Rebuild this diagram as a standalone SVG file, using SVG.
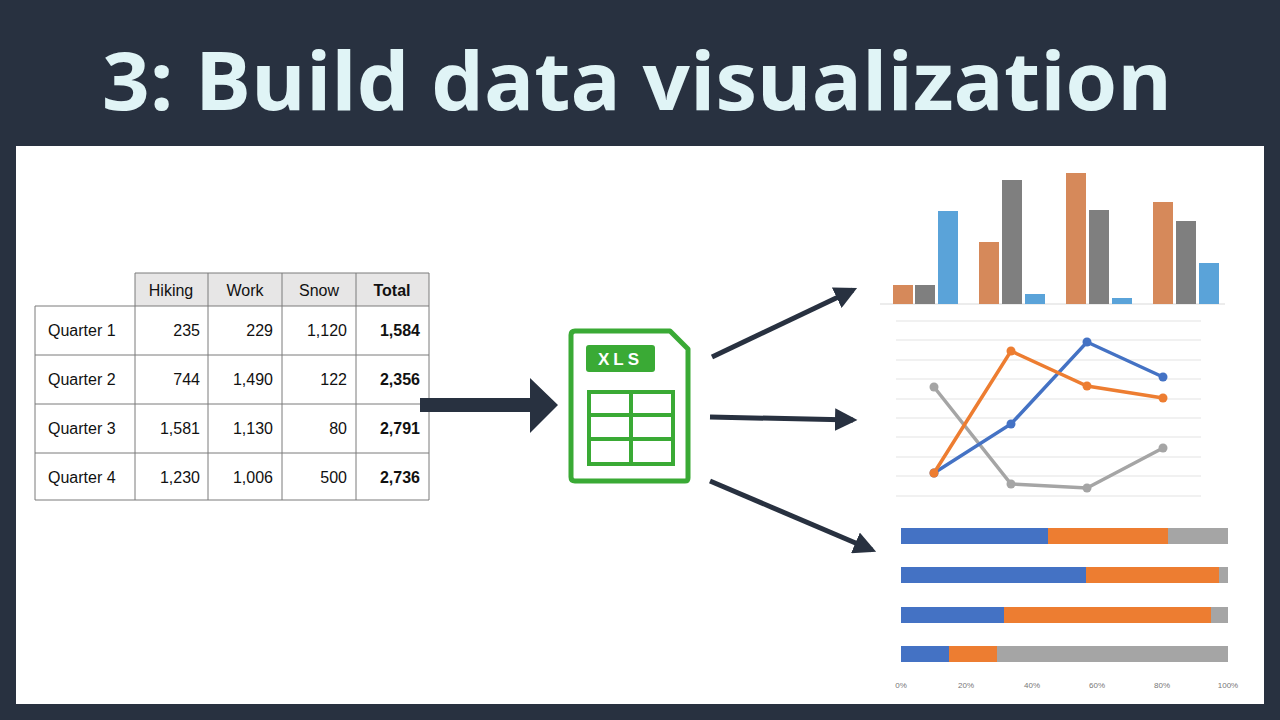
<svg xmlns="http://www.w3.org/2000/svg" width="1280" height="720" viewBox="0 0 1280 720">
<style>
.t{font-family:"Liberation Sans",Arial,sans-serif;font-size:16px;fill:#111}
.b{font-weight:bold}
.g{stroke:#7a7a7a;stroke-width:1;fill:none}
.ax{font-family:"Liberation Sans",Arial,sans-serif;font-size:8px;fill:#777;text-anchor:middle}
.conn{stroke:#283140;stroke-width:5;fill:none}
.grid{stroke:#e3e3e3;stroke-width:1}
</style>
<defs>
<marker id="ah" viewBox="0 0 10 10" refX="8" refY="5" markerWidth="4.5" markerHeight="4.5" orient="auto" markerUnits="strokeWidth"><path d="M0,0 L10,5 L0,10 z" fill="#283140"/></marker>
</defs>
<rect width="1280" height="720" fill="#283140"/>
<rect x="16" y="146" width="1248" height="558" fill="#fff"/>
<text x="102" y="110" textLength="1070" lengthAdjust="spacingAndGlyphs" font-family="Open Sans, sans-serif" font-weight="bold" font-size="80" fill="#e0f4f6">3: Build data visualization</text>

<g id="table">
<rect x="135" y="273" width="294" height="33" fill="#e7e6e6"/>
<path class="g" d="M135,273 H429 M35,306 H429 M35,355 H429 M35,404 H429 M35,453 H429 M135,273 V500 M208,273 V500 M282,273 V500 M356,273 V500 M429,273 V500 M35,306 V500 M35,500 H429"/>
<text class="t" x="171" y="296" text-anchor="middle">Hiking</text>
<text class="t" x="245" y="296" text-anchor="middle">Work</text>
<text class="t" x="319" y="296" text-anchor="middle">Snow</text>
<text class="t b" x="392" y="296" text-anchor="middle">Total</text>
<g class="t">
<text x="48" y="336">Quarter 1</text><text x="48" y="385">Quarter 2</text><text x="48" y="434">Quarter 3</text><text x="48" y="483">Quarter 4</text>
</g>
<g class="t" text-anchor="end">
<text x="200" y="336">235</text><text x="273" y="336">229</text><text x="347" y="336">1,120</text><text class="b" x="420" y="336">1,584</text>
<text x="200" y="385">744</text><text x="273" y="385">1,490</text><text x="347" y="385">122</text><text class="b" x="420" y="385">2,356</text>
<text x="200" y="434">1,581</text><text x="273" y="434">1,130</text><text x="347" y="434">80</text><text class="b" x="420" y="434">2,791</text>
<text x="200" y="483">1,230</text><text x="273" y="483">1,006</text><text x="347" y="483">500</text><text class="b" x="420" y="483">2,736</text>
</g>
</g>

<g id="xls">
<path d="M575,331 H670 L688,349 V478 Q688,481 685,481 H575 Q571,481 571,477 V335 Q571,331 575,331 Z" fill="none" stroke="#3aaa35" stroke-width="5" stroke-linejoin="round"/>
<rect x="586" y="345" width="69" height="27" rx="3" fill="#3aaa35"/>
<text x="620.5" y="365" text-anchor="middle" font-family="Liberation Sans, sans-serif" font-weight="bold" font-size="17" letter-spacing="4" fill="#fff">XLS</text>
<rect x="589" y="392" width="84" height="72" fill="none" stroke="#3aaa35" stroke-width="4"/>
<path d="M631,392 V464 M589,415 H673 M589,439 H673" stroke="#3aaa35" stroke-width="4"/>
</g>

<g id="connectors">
<path d="M420,398 H530 V378 L558,405 L530,433 V412 H420 Z" fill="#283140"/>
<line class="conn" x1="712" y1="357" x2="853" y2="290" marker-end="url(#ah)"/>
<line class="conn" x1="710" y1="417" x2="853" y2="420" marker-end="url(#ah)"/>
<line class="conn" x1="710" y1="481" x2="872" y2="550" marker-end="url(#ah)"/>
</g>

<g id="bar-chart">
<line x1="880" y1="304" x2="1225" y2="304" stroke="#d9d9d9"/>
<g fill="#d6895a">
<rect x="893" y="285" width="20" height="19"/><rect x="979" y="242" width="20" height="62"/><rect x="1066" y="173" width="20" height="131"/><rect x="1153" y="202" width="20" height="102"/>
</g>
<g fill="#7f7f7f">
<rect x="915" y="285" width="20" height="19"/><rect x="1002" y="180" width="20" height="124"/><rect x="1089" y="210" width="20" height="94"/><rect x="1176" y="221" width="20" height="83"/>
</g>
<g fill="#5aa3d9">
<rect x="938" y="211" width="20" height="93"/><rect x="1025" y="294" width="20" height="10"/><rect x="1112" y="298" width="20" height="6"/><rect x="1199" y="263" width="20" height="41"/>
</g>
</g>

<g id="line-chart">
<g class="grid">
<line x1="896" y1="321" x2="1201" y2="321"/><line x1="896" y1="340" x2="1201" y2="340"/><line x1="896" y1="360" x2="1201" y2="360"/><line x1="896" y1="379" x2="1201" y2="379"/><line x1="896" y1="399" x2="1201" y2="399"/><line x1="896" y1="418" x2="1201" y2="418"/><line x1="896" y1="437" x2="1201" y2="437"/><line x1="896" y1="457" x2="1201" y2="457"/><line x1="896" y1="476" x2="1201" y2="476"/><line x1="896" y1="496" x2="1201" y2="496"/>
</g>
<polyline points="934,387 1011,484 1087,488 1163,448" fill="none" stroke="#a5a5a5" stroke-width="3.5"/>
<g fill="#a5a5a5"><circle cx="934" cy="387" r="4.5"/><circle cx="1011" cy="484" r="4.5"/><circle cx="1087" cy="488" r="4.5"/><circle cx="1163" cy="448" r="4.5"/></g>
<polyline points="934,473 1011,424 1087,342 1163,377" fill="none" stroke="#4472c4" stroke-width="3.5"/>
<g fill="#4472c4"><circle cx="934" cy="473" r="4.5"/><circle cx="1011" cy="424" r="4.5"/><circle cx="1087" cy="342" r="4.5"/><circle cx="1163" cy="377" r="4.5"/></g>
<polyline points="934,473 1011,351 1087,386 1163,398" fill="none" stroke="#ed7d31" stroke-width="3.5"/>
<g fill="#ed7d31"><circle cx="934" cy="473" r="4.5"/><circle cx="1011" cy="351" r="4.5"/><circle cx="1087" cy="386" r="4.5"/><circle cx="1163" cy="398" r="4.5"/></g>
</g>

<g id="stacked-chart">
<rect x="901" y="528" width="327" height="16" fill="#a5a5a5"/><rect x="901" y="528" width="267" height="16" fill="#ed7d31"/><rect x="901" y="528" width="147" height="16" fill="#4472c4"/>
<rect x="901" y="567" width="327" height="16" fill="#a5a5a5"/><rect x="901" y="567" width="318" height="16" fill="#ed7d31"/><rect x="901" y="567" width="185" height="16" fill="#4472c4"/>
<rect x="901" y="607" width="327" height="16" fill="#a5a5a5"/><rect x="901" y="607" width="310" height="16" fill="#ed7d31"/><rect x="901" y="607" width="103" height="16" fill="#4472c4"/>
<rect x="901" y="646" width="327" height="16" fill="#a5a5a5"/><rect x="901" y="646" width="96" height="16" fill="#ed7d31"/><rect x="901" y="646" width="48" height="16" fill="#4472c4"/>
<text class="ax" x="901" y="688">0%</text><text class="ax" x="966" y="688">20%</text><text class="ax" x="1032" y="688">40%</text><text class="ax" x="1097" y="688">60%</text><text class="ax" x="1162" y="688">80%</text><text class="ax" x="1228" y="688">100%</text>
</g>
</svg>
